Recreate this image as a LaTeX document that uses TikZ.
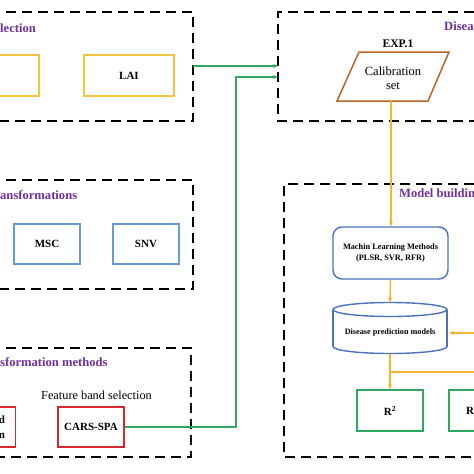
\documentclass[tikz,border=0pt]{standalone}
\usepackage{fontspec}
\setmainfont{Liberation Serif}
\usetikzlibrary{arrows.meta}
\definecolor{ttl}{HTML}{7030A0}
\definecolor{yel}{HTML}{F5C242}
\definecolor{yline}{HTML}{F2B431}
\definecolor{lblue}{HTML}{6A9AD3}
\definecolor{dblue}{HTML}{4A72C0}
\definecolor{brn}{HTML}{B8652A}
\definecolor{grn}{HTML}{2FA862}
\definecolor{rd}{HTML}{D7262E}
\tikzset{
  dashbox/.style={draw=black, line width=1.6pt, dash pattern=on 10pt off 6pt},
  ttlstyle/.style={text=ttl, font=\bfseries\fontsize{12.6}{14}\selectfont, inner sep=0pt},
  basebox/.style={rectangle, line width=1.5pt, minimum width=66pt, minimum height=40pt, inner sep=0pt, align=center, font=\bfseries\fontsize{11}{13}\selectfont},
  ybox/.style={basebox, draw=yel, minimum width=90pt, minimum height=41pt},
  bbox/.style={basebox, draw=lblue},
  rbox/.style={basebox, draw=rd},
  gbox/.style={basebox, draw=grn, minimum height=41pt},
  gline/.style={draw=grn, line width=1.3pt},
  yln/.style={draw=yline, line width=1.4pt},
  tip/.style={-{Stealth[length=5pt,width=4pt]}}
}
\begin{document}
\begin{tikzpicture}[x=1pt,y=-1pt]
\useasboundingbox (0,0) rectangle (474,474);
\clip (0,0) rectangle (474,474);
\fill[white] (0,0) rectangle (474,474);

% dashed group boxes
\draw[dashbox] (-10,12) -- (193,12) -- (193,121) -- (-10,121);
\draw[dashbox] (490,12) -- (278,12) -- (278,121) -- (490,121);
\draw[dashbox] (-10,180) -- (193,180) -- (193,289) -- (-10,289);
\draw[dashbox] (490,184) -- (284,184) -- (284,457) -- (490,457);
\draw[dashbox] (-10,348) -- (191,348) -- (191,457) -- (-10,457);

% titles
\node[ttlstyle, anchor=west] (t1) at (0,28) {lection};
\node[ttlstyle, anchor=west] (t2) at (444,28) {Disease monitoring};
\node[ttlstyle, anchor=west] (t3) at (0,195) {ansformations};
\node[ttlstyle, anchor=west] (t4) at (399,195) {Model building};
\node[ttlstyle, anchor=west] (t5) at (0,362) {sformation methods};

% top-left boxes
\node[ybox] (y1) at (-6,75.5) {};
\node[ybox] (lai) at (129,75.5) {LAI};

% middle boxes
\node[bbox] (msc) at (47,244) {MSC};
\node[bbox] (snv) at (146,244) {SNV};

% bottom-left
\node[font=\fontsize{12.3}{14}\selectfont, inner sep=0pt] (fbs) at (96.5,395) {Feature band selection};
\node[rbox, minimum width=86pt, anchor=east, align=right, inner xsep=8pt, font=\bfseries\fontsize{11}{15}\selectfont] (lr) at (16,427) {Optimal band\\combination};
\node[rbox] (cars) at (91,427) {CARS-SPA};

% EXP.1 and calibration set
\node[font=\bfseries\fontsize{11.6}{13}\selectfont, inner sep=0pt] (exp) at (398,44) {EXP.1};
\draw[draw=brn, line width=1.5pt, line join=miter] (359,52) -- (449,52) -- (428,101) -- (337,101) -- cycle;
\node[align=center, font=\fontsize{12.5}{13.5}\selectfont, inner sep=0pt] (cal) at (393,78) {Calibration\\set};
\coordinate (calbot) at (391,101);

% machine learning
\node[rectangle, rounded corners=9pt, draw=dblue, line width=1.4pt, minimum width=115pt, minimum height=52pt, align=center, font=\bfseries\fontsize{8.3}{10.5}\selectfont, inner sep=0pt] (ml) at (390.5,253) {Machin Learning Methods\\(PLSR, SVR, RFR)};

% cylinder
\draw[draw=dblue, line width=1.4pt] (390,346.5) ellipse (57 and 7);
\fill[white] (333.7,309.5) rectangle (446.3,346.5);
\draw[draw=dblue, line width=1.4pt] (333,309.5) -- (333,346.5);
\draw[draw=dblue, line width=1.4pt] (447,309.5) -- (447,346.5);
\draw[draw=dblue, line width=1.4pt] (390,309.5) ellipse (57 and 7);
\node[font=\bfseries\fontsize{8.2}{10}\selectfont, inner sep=0pt] (dpm) at (390,333) {Disease prediction models};
\coordinate (cyltop) at (390,302.5);
\coordinate (cylbot) at (390,353.5);
\coordinate (cylright) at (449,333);
\coordinate (rin) at (480,333);

% result boxes
\node[gbox] (r2) at (390,410.5) {R\textsuperscript{2}};
\node[gbox] (rmse) at (482,410.5) {RMSE};

% connector coordinates
\coordinate (a1) at (193,66);
\coordinate (b1) at (278,66);
\coordinate (gturn) at (236,77);
\coordinate (b2) at (278,77);
\coordinate (br) at (390,372);
\coordinate (brr) at (480,372);

% green connectors
\draw[gline, tip] (a1) -- (b1);
\draw[gline, tip] (cars.east) -| (gturn) -- (b2);

% yellow connectors
\draw[yln, tip] (calbot) -- (calbot |- ml.north);
\draw[yln, tip] (ml.south) -- (cyltop);
\draw[yln, tip] (cylbot) -- (r2.north);
\draw[yln] (br) -- (brr);
\draw[yln, tip] (rin) -- (cylright);
\end{tikzpicture}
\end{document}
